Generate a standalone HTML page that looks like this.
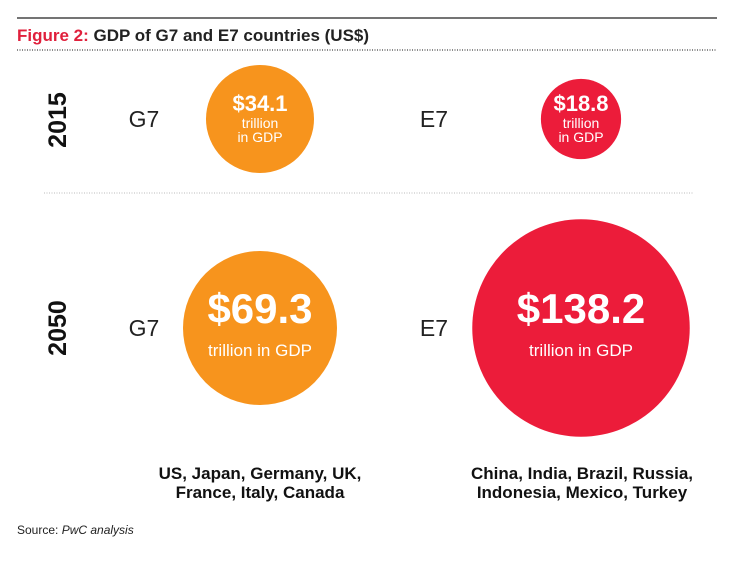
<!DOCTYPE html>
<html><head><meta charset="utf-8">
<style>
html,body{margin:0;padding:0;background:#fff;}
body{width:734px;height:558px;overflow:hidden;font-family:"Liberation Sans Narrow","Liberation Sans",sans-serif;}
svg text{font-family:"Liberation Sans Narrow","Liberation Sans",sans-serif;}
</style></head>
<body>
<svg id="chart" width="734" height="558" viewBox="0 0 734 558" xmlns="http://www.w3.org/2000/svg">
  <line x1="17" y1="18" x2="717" y2="18" stroke="#222" stroke-width="1.3"/>
  <text x="17" y="41" font-size="17" font-weight="bold" fill="#222"><tspan fill="#e0203c">Figure 2:</tspan> GDP of G7 and E7 countries (US$)</text>
  <line x1="17" y1="50" x2="717" y2="50" stroke="#444" stroke-width="1.2" stroke-dasharray="1,1.5"/>
  <line x1="44" y1="193" x2="693" y2="193" stroke="#bbb" stroke-width="1" stroke-dasharray="1,1.5"/>
  <text transform="translate(66,120) rotate(-90)" text-anchor="middle" font-size="25" font-weight="bold" font-family="Liberation Sans" fill="#111">2015</text>
  <text transform="translate(66,328) rotate(-90)" text-anchor="middle" font-size="25" font-weight="bold" font-family="Liberation Sans" fill="#111">2050</text>
  <g id="bubbles"></g>
  <g font-size="17" font-weight="bold" fill="#111" text-anchor="middle">
    <text x="260" y="479">US, Japan, Germany, UK,</text>
    <text x="260" y="498">France, Italy, Canada</text>
  </g>
  <g font-size="17" font-weight="bold" fill="#111" text-anchor="middle">
    <text x="582" y="479">China, India, Brazil, Russia,</text>
    <text x="582" y="498">Indonesia, Mexico, Turkey</text>
  </g>
  <text x="17" y="534" font-size="12" fill="#222">Source: <tspan font-style="italic">PwC analysis</tspan></text>
</svg>
<script>
const years = ["2015", "2050"];
const groups = ["G7", "E7"];
const g7Values = [34.1, 69.3];
const e7Values = [18.8, 138.2];
const valueLabels = [["$34.1", "$18.8"], ["$69.3", "$138.2"]];

const NS = "http://www.w3.org/2000/svg";
const colors = {G7: "#f7941d", E7: "#ec1c3a"};
const rowY = [119, 328];
const colX = {G7: 260, E7: 581};
const labelX = {G7: 144, E7: 434};
function rScale(v){ return 9.25 * Math.sqrt(v); }
const g = document.getElementById("bubbles");
function mk(tag, attrs, txt){
  const e = document.createElementNS(NS, tag);
  for (const k in attrs) e.setAttribute(k, attrs[k]);
  if (txt !== undefined) e.textContent = txt;
  g.appendChild(e);
  return e;
}
years.forEach((yr, i) => {
  groups.forEach((grp, j) => {
    const v = grp === "G7" ? g7Values[i] : e7Values[i];
    const cx = colX[grp], cy = rowY[i], r = rScale(v);
    const lab = mk("text", {x: labelX[grp], y: cy + 8, "text-anchor": "middle", "font-size": 23, fill: "#222"}, grp);
    
    
    const c = mk("circle", {cx: cx, cy: cy, r: r, fill: colors[grp]});
    
    
    const big = i === 1;
    const vt = mk("text", {x: cx, y: big ? cy - 5 : cy - 8, "text-anchor": "middle", "font-size": big ? 42 : 22, "font-weight": "bold", fill: "#fff"}, valueLabels[i][j]);
    
    
    if (big) {
      const s = mk("text", {x: cx, y: cy + 28, "text-anchor": "middle", "font-size": 17, fill: "#fff"}, "trillion in GDP");
      
      
    } else {
      const s1 = mk("text", {x: cx, y: cy + 9, "text-anchor": "middle", "font-size": 14, fill: "#fff"}, "trillion");
      
      
      const s2 = mk("text", {x: cx, y: cy + 23, "text-anchor": "middle", "font-size": 14, fill: "#fff"}, "in GDP");
      
      
    }
  });
});
</script>
</body></html>
